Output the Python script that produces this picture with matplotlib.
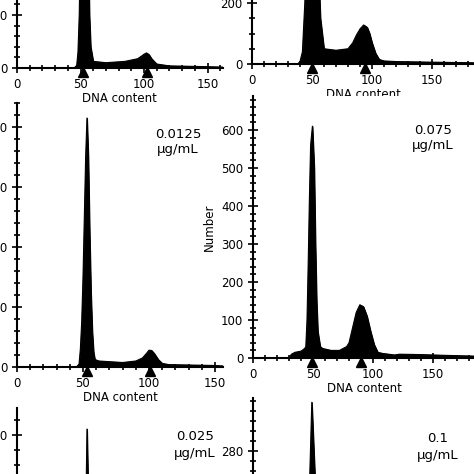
import matplotlib.pyplot as plt
from matplotlib.ticker import MultipleLocator

W = 474.0

# outline points (DNA content, number)
tl_x = [0, 45, 47, 48, 49, 50, 52, 54, 56, 57, 58, 60, 70, 85, 95, 98, 100, 102, 104, 106, 110, 120, 150, 165]
tl_y = [0, 0, 10, 60, 200, 500, 900, 900, 500, 200, 80, 25, 20, 25, 35, 45, 52, 57, 50, 35, 15, 8, 5, 3]
tr_x = [0, 38, 40, 42, 44, 46, 48, 50, 53, 55, 57, 60, 70, 80, 84, 87, 90, 93, 96, 98, 100, 103, 106,
        110, 120, 150, 185]
tr_y = [0, 0, 8, 40, 200, 450, 600, 650, 600, 350, 150, 50, 45, 50, 70, 95, 115, 128, 120, 100, 70, 35,
        15, 10, 8, 6, 4]
ml_x = [0, 45, 47, 48, 49, 50, 51, 52, 53, 54, 55, 56, 57, 58, 59, 62, 80, 90, 95, 98, 100, 102,
        104, 107, 110, 115, 150, 158]
ml_y = [0, 0, 10, 60, 150, 300, 500, 700, 830, 700, 450, 250, 120, 50, 25, 20, 15, 20, 30, 45, 56,
        55, 45, 25, 12, 8, 5, 3]
mr_x = [0, 30, 32, 35, 40, 43, 44, 45, 46, 47, 48, 49.5, 51, 52, 53, 54, 56, 58, 65, 72, 78, 80,
        83, 86, 89, 92, 95, 98, 101, 104, 108, 118, 122, 140, 160, 185]
mr_y = [0, 0, 10, 15, 18, 25, 30, 100, 250, 420, 560, 610, 500, 300, 150, 70, 30, 25, 20, 20, 30,
        40, 80, 120, 140, 135, 110, 70, 35, 15, 12, 8, 10, 9, 7, 5]
bl_x = [0, 51, 52, 53, 54, 55, 56]
bl_y = [0, 0, 300, 620, 400, 250, 150]
br_x = [0, 46, 48, 49, 50, 51, 52]
br_y = [0, 0, 300, 450, 350, 250, 150]

# G1 / G2 marker positions
tl_marks = [52, 102]
tr_marks = [50, 94]
ml_marks = [53, 101]
mr_marks = [49, 90]

# panel: data, origin pixel, px per unit x/y, xlim, ytop, major/minor y, label
panels = [
    (tl_x, tl_y, tl_marks, 17, 68, 1.27, 0.265, 162, 300, 200, 40, None),
    (tr_x, tr_y, tr_marks, 252, 64, 1.2, 0.305, 185, 300, 200, 50, None),
    (ml_x, ml_y, ml_marks, 17, 367, 1.32, 0.30, 156, 880, 200, 40, '0.0125\nμg/mL'),
    (mr_x, mr_y, mr_marks, 253, 358, 1.2, 0.38, 185, 690, 100, 20, '0.075\nμg/mL'),
    (bl_x, bl_y, [], 17, 615, 1.32, 0.30, 156, 690, 200, 50, '0.025\nμg/mL'),
    (br_x, br_y, [], 253, 531, 1.2, 0.286, 185, 465, 280, 35, '0.1\nμg/mL'),
]
label_pos = {2: (178, 142), 3: (433, 138), 4: (195, 445), 5: (438, 447)}

fig = plt.figure(figsize=(4.74, 4.74), dpi=100)
for i, (xs, ys, marks, x0, y0, sx, sy, xmax, ytop, maj, mnr, lab) in enumerate(panels):
    left = x0 / W
    bottom = 1 - y0 / W
    ax = fig.add_axes([left, bottom, xmax * sx / W, ytop * sy / W])
    ax.fill_between(xs, ys, color='black', lw=0.8)
    ax.plot(xs, ys, color='black', lw=0.8)
    ax.set_xlim(0, xmax)
    ax.set_ylim(0, ytop)
    for s in ['top', 'right']:
        ax.spines[s].set_visible(False)
    ax.spines['left'].set_linewidth(1.5)
    ax.spines['bottom'].set_linewidth(1.5)
    ax.xaxis.set_major_locator(MultipleLocator(50))
    ax.xaxis.set_minor_locator(MultipleLocator(10))
    ax.yaxis.set_major_locator(MultipleLocator(maj))
    ax.yaxis.set_minor_locator(MultipleLocator(mnr))
    ax.tick_params(which='both', direction='inout', width=1.2, labelsize=8.5)
    ax.tick_params(which='major', length=7)
    ax.tick_params(which='minor', length=4)
    if marks:
        ax.plot(marks, [-4 / sy] * len(marks), '^', color='black', ms=7, clip_on=False)
    ax.set_xlabel('DNA content', fontsize=8.5, labelpad=1)
    if i == 3:
        ax.set_ylabel('Number', fontsize=8.5)
    if lab:
        lx, ly = label_pos[i]
        fig.text(lx / W, 1 - ly / W, lab, ha='center', va='center', fontsize=9.5,
                 linespacing=1.3)

fig.savefig('out.png', dpi=100)
